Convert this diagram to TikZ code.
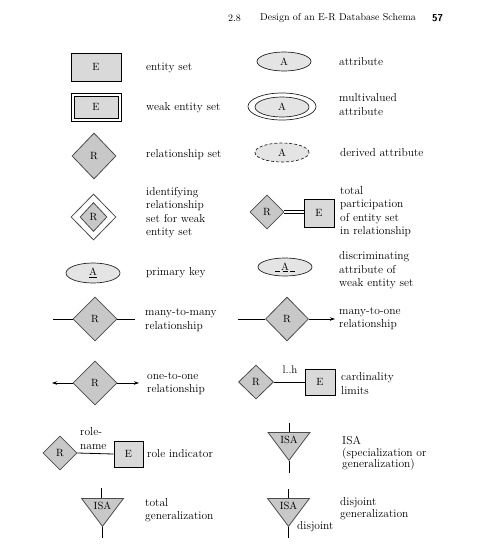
\documentclass[tikz,border=0pt]{standalone}
\usetikzlibrary{arrows.meta,positioning,shapes.geometric,calc}
\definecolor{erbox}{RGB}{217,217,217}
\definecolor{erdia}{RGB}{200,200,200}
\definecolor{erattr}{RGB}{228,228,228}
\definecolor{eredge}{RGB}{75,75,75}
\tikzset{
  shapetxt/.style={font=\fontsize{10.5}{12}\selectfont, inner sep=0pt},
  ent/.style={rectangle, draw=black, fill=erbox, line width=0.9pt, minimum width=50pt,
              minimum height=28pt, inner sep=0pt, shapetxt},
  rel/.style={diamond, draw=eredge, fill=erdia, line width=0.8pt, inner sep=0pt,
              minimum width=44pt, minimum height=46pt, shapetxt},
  att/.style={ellipse, draw=black!85, fill=erattr, line width=0.7pt, inner sep=0pt,
              minimum width=54pt, minimum height=19pt, shapetxt},
  isatri/.style={isosceles triangle, shape border rotate=270, isosceles triangle stretches,
                 draw=eredge, fill=erdia, line width=0.8pt, inner sep=0pt,
                 minimum width=42pt, minimum height=28pt},
  desc/.style={anchor=west, align=left, font=\fontsize{11.5}{13.5}\selectfont, inner sep=0pt},
  link/.style={line width=0.8pt},
  arr/.style={-{Stealth[length=5pt,width=3.5pt]}, line width=0.8pt},
}
\begin{document}
\begin{tikzpicture}[x=1pt, y=-1pt]
\path[use as bounding box] (0,0) rectangle (502,544);
% running head
\node[desc, font=\fontsize{10}{12}\selectfont] (secno) at (228,18) {2.8};
\node[desc, font=\fontsize{10}{12}\selectfont] (sectitle) at (260,18) {Design of an E-R Database Schema};
\node[desc, font=\fontsize{10}{12}\selectfont\sffamily\bfseries] (pageno) at (432,18) {57};

% left column
\node[ent] (ent) at (96,67) {E};
\node[desc] (entl) at (146,68) {entity set};

\node[ent, fill=none, draw=black] (wkout) at (96,107) {};
\node[ent, minimum width=44pt, minimum height=22pt] (wk) at (96,107) {E};
\node[desc] (wkl) at (146,108) {weak entity set};

\node[rel] (rel) at (94,156) {R};
\node[desc] (rell) at (146,155) {relationship set};

\node[rel, fill=white, minimum width=45pt] (idout) at (93.5,217) {};
\node[rel, minimum width=27pt, minimum height=29pt] (idrel) at (93.5,217) {R};
\node[desc] (idl) at (146,212.5) {identifying\\relationship\\set for weak\\entity set};

\node[att, minimum height=20pt] (pk) at (93,273) {\underline{A}};
\node[desc] (pkl) at (146,273) {primary key};

\node[rel, minimum height=44pt] (mm) at (95,319) {R};
\coordinate (mmw) at (53,319);
\coordinate (mme) at (135,319);
\draw[link] (mmw) -- (mm.west);
\draw[link] (mm.east) -- (mme);
\node[desc] (mml) at (145,320) {many-to-many\\relationship};

\node[rel, minimum height=44pt] (oo) at (95,383) {R};
\coordinate (oow) at (52,383);
\coordinate (ooe) at (139,383);
\draw[arr] (oo.west) -- (oow);
\draw[arr] (oo.east) -- (ooe);
\node[desc] (ool) at (147,383.5) {one-to-one\\relationship};

\node[rel, minimum width=34pt, minimum height=34pt] (rolerel) at (60,453) {R};
\node[ent, minimum width=29pt, minimum height=26pt] (roleent) at (128.5,454) {E};
\draw[link] (rolerel.east) -- (roleent.west);
\node[desc] (rolename) at (80,438.5) {role-\\name};
\node[desc] (rolel) at (147,454) {role indicator};

\node[isatri, anchor=lower side] (totisa) at (102.5,498) {};
\node[shapetxt, below=4pt of totisa.lower side] (totisat) {ISA};
\coordinate (tottop) at (102.5,488);
\coordinate (totbot) at (102.5,538);
\draw[link, double, double distance=2pt, line width=0.7pt] (tottop) -- (totisa.lower side);
\draw[link] (totisa.apex) -- (totbot);
\node[desc] (totl) at (145,510) {total\\generalization};

% right column
\node[att] (att) at (284,61.5) {A};
\node[desc] (attl) at (339,62) {attribute};

\node[att, fill=white, minimum width=68pt, minimum height=27pt] (mvout) at (282,106.5) {};
\node[att, minimum height=20pt] (mv) at (282,107) {A};
\node[desc] (mvl) at (339,104.5) {multivalued\\attribute};

\node[att, dash pattern=on 3pt off 2pt] (der) at (282,152.5) {A};
\node[desc] (derl) at (340,153) {derived attribute};

\node[rel, minimum width=34pt, minimum height=34pt] (tprel) at (267,212) {R};
\node[ent, minimum width=30pt, minimum height=28pt] (tpent) at (319,213) {E};
\draw[link, double, double distance=2pt, line width=0.7pt] (tprel.east) -- (tprel.east -| tpent.west);
\node[desc] (tpl) at (340,211.5) {total\\participation\\of entity set\\in relationship};

\node[att, minimum height=18pt] (dsc) at (285,267) {\raisebox{1pt}{A}};
\draw[line width=0.6pt, dash pattern=on 5pt off 2.5pt] ($(dsc.center)+(-10,4.5)$) -- ($(dsc.center)+(10,4.5)$);
\node[desc] (dscl) at (339,270.5) {discriminating\\attribute of\\weak entity set};

\node[rel, minimum width=43pt, minimum height=44pt] (mo) at (287,319) {R};
\coordinate (mow) at (238,319);
\coordinate (moe) at (335,319);
\draw[link] (mow) -- (mo.west);
\draw[arr] (mo.east) -- (moe);
\node[desc] (mol) at (339,318.5) {many-to-one\\relationship};

\node[rel, minimum width=35pt, minimum height=34pt] (cdrel) at (256,382) {R};
\node[ent, minimum width=30pt, minimum height=26pt] (cdent) at (320,382) {E};
\draw[link] (cdrel.east) -- (cdent.west);
\node[shapetxt, font=\fontsize{11}{12}\selectfont] (cdlim) at (290,370) {l..h};
\node[desc] (cdl) at (341,383.5) {cardinality\\limits};

\node[isatri, anchor=lower side] (isa) at (289,432) {};
\node[shapetxt, below=4pt of isa.lower side] (isat) {ISA};
\coordinate (isatop) at (289,423);
\coordinate (isabot) at (289,473);
\draw[link] (isatop) -- (isa.lower side);
\draw[link] (isa.apex) -- (isabot);
\node[desc, font=\fontsize{11.5}{11.8}\selectfont] (isal) at (342,453.5) {ISA\\(specialization or\\generalization)};

\node[isatri, anchor=lower side] (djisa) at (288.5,498) {};
\node[shapetxt, below=4pt of djisa.lower side] (djisat) {ISA};
\coordinate (djtop) at (288.5,489);
\coordinate (djbot) at (288.5,538);
\draw[link] (djtop) -- (djisa.lower side);
\draw[link] (djisa.apex) -- (djbot);
\node[desc] (djname) at (297,527) {disjoint};
\node[desc, font=\fontsize{11.5}{12}\selectfont] (djl) at (340,509) {disjoint\\generalization};
\end{tikzpicture}
\end{document}
